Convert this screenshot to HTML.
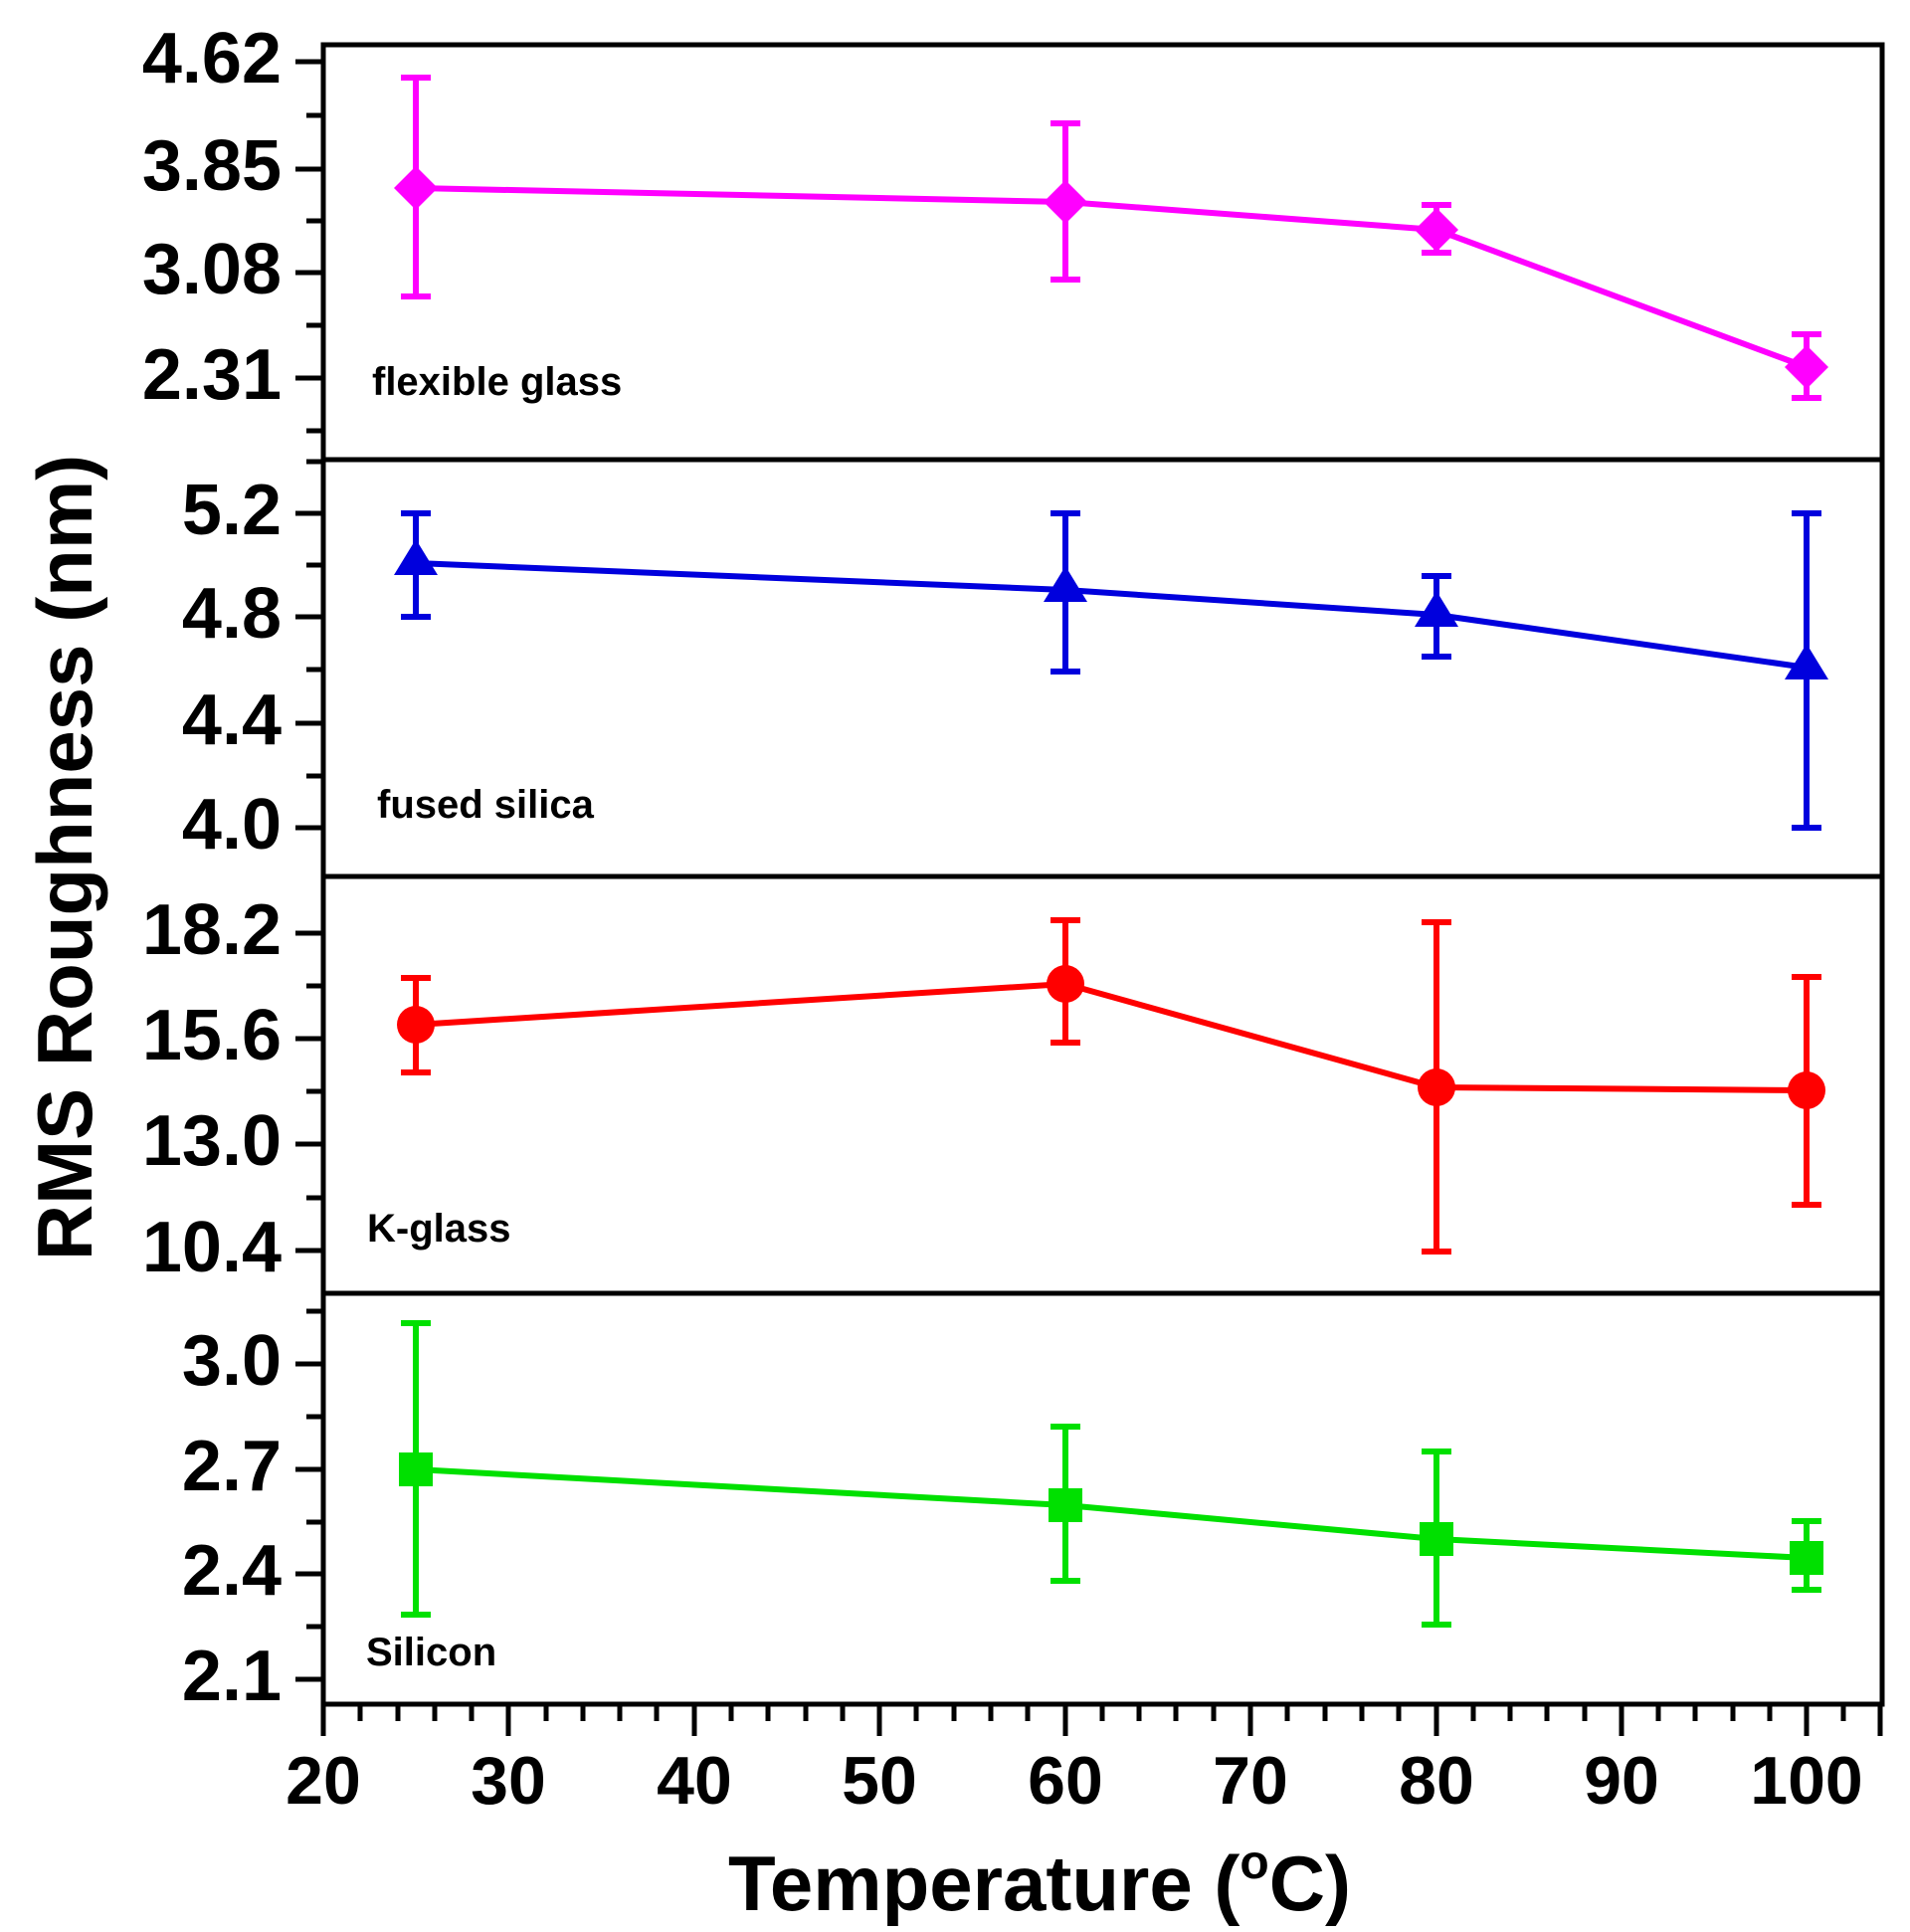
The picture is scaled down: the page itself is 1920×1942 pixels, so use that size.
<!DOCTYPE html>
<html><head><meta charset="utf-8"><style>
html,body{margin:0;padding:0;background:#fff;}
svg{display:block;}
text{font-family:"Liberation Sans",Arial,sans-serif;font-weight:bold;fill:#000;}
</style></head><body>
<svg width="1920" height="1942" viewBox="0 0 1920 1942" xmlns="http://www.w3.org/2000/svg">
<g stroke="#000" stroke-width="5" fill="none">
<rect x="325" y="45" width="1567" height="1668"/>
<line x1="325" y1="462" x2="1892" y2="462"/>
<line x1="325" y1="881" x2="1892" y2="881"/>
<line x1="325" y1="1300" x2="1892" y2="1300"/>
</g>
<g stroke="#000" stroke-width="5">
<line x1="297" y1="62" x2="325" y2="62"/><line x1="308" y1="116" x2="325" y2="116"/>
<line x1="297" y1="170" x2="325" y2="170"/><line x1="308" y1="222" x2="325" y2="222"/>
<line x1="297" y1="274" x2="325" y2="274"/><line x1="308" y1="327" x2="325" y2="327"/>
<line x1="297" y1="380" x2="325" y2="380"/><line x1="308" y1="433" x2="325" y2="433"/>
<line x1="308" y1="464" x2="325" y2="464"/>
<line x1="297" y1="516" x2="325" y2="516"/><line x1="308" y1="568" x2="325" y2="568"/>
<line x1="297" y1="620" x2="325" y2="620"/><line x1="308" y1="673" x2="325" y2="673"/>
<line x1="297" y1="727" x2="325" y2="727"/><line x1="308" y1="780" x2="325" y2="780"/>
<line x1="297" y1="832" x2="325" y2="832"/>
<line x1="297" y1="938" x2="325" y2="938"/><line x1="308" y1="991" x2="325" y2="991"/>
<line x1="297" y1="1044" x2="325" y2="1044"/><line x1="308" y1="1097" x2="325" y2="1097"/>
<line x1="297" y1="1150" x2="325" y2="1150"/><line x1="308" y1="1204" x2="325" y2="1204"/>
<line x1="297" y1="1257" x2="325" y2="1257"/>
<line x1="308" y1="1318" x2="325" y2="1318"/>
<line x1="297" y1="1371" x2="325" y2="1371"/><line x1="308" y1="1424" x2="325" y2="1424"/>
<line x1="297" y1="1477" x2="325" y2="1477"/><line x1="308" y1="1530" x2="325" y2="1530"/>
<line x1="297" y1="1582" x2="325" y2="1582"/><line x1="308" y1="1635" x2="325" y2="1635"/>
<line x1="297" y1="1688" x2="325" y2="1688"/>
</g>
<g stroke="#000" stroke-width="5">
<line x1="325" y1="1713" x2="325" y2="1745"/><line x1="362" y1="1713" x2="362" y2="1730"/><line x1="400" y1="1713" x2="400" y2="1730"/><line x1="437" y1="1713" x2="437" y2="1730"/><line x1="474" y1="1713" x2="474" y2="1730"/>
<line x1="511" y1="1713" x2="511" y2="1745"/><line x1="549" y1="1713" x2="549" y2="1730"/><line x1="586" y1="1713" x2="586" y2="1730"/><line x1="623" y1="1713" x2="623" y2="1730"/><line x1="660" y1="1713" x2="660" y2="1730"/>
<line x1="698" y1="1713" x2="698" y2="1745"/><line x1="735" y1="1713" x2="735" y2="1730"/><line x1="772" y1="1713" x2="772" y2="1730"/><line x1="810" y1="1713" x2="810" y2="1730"/><line x1="847" y1="1713" x2="847" y2="1730"/>
<line x1="884" y1="1713" x2="884" y2="1745"/><line x1="921" y1="1713" x2="921" y2="1730"/><line x1="959" y1="1713" x2="959" y2="1730"/><line x1="996" y1="1713" x2="996" y2="1730"/><line x1="1033" y1="1713" x2="1033" y2="1730"/>
<line x1="1071" y1="1713" x2="1071" y2="1745"/><line x1="1108" y1="1713" x2="1108" y2="1730"/><line x1="1145" y1="1713" x2="1145" y2="1730"/><line x1="1182" y1="1713" x2="1182" y2="1730"/><line x1="1220" y1="1713" x2="1220" y2="1730"/>
<line x1="1257" y1="1713" x2="1257" y2="1745"/><line x1="1294" y1="1713" x2="1294" y2="1730"/><line x1="1332" y1="1713" x2="1332" y2="1730"/><line x1="1369" y1="1713" x2="1369" y2="1730"/><line x1="1406" y1="1713" x2="1406" y2="1730"/>
<line x1="1444" y1="1713" x2="1444" y2="1745"/><line x1="1481" y1="1713" x2="1481" y2="1730"/><line x1="1518" y1="1713" x2="1518" y2="1730"/><line x1="1555" y1="1713" x2="1555" y2="1730"/><line x1="1593" y1="1713" x2="1593" y2="1730"/>
<line x1="1630" y1="1713" x2="1630" y2="1745"/><line x1="1667" y1="1713" x2="1667" y2="1730"/><line x1="1704" y1="1713" x2="1704" y2="1730"/><line x1="1742" y1="1713" x2="1742" y2="1730"/><line x1="1779" y1="1713" x2="1779" y2="1730"/>
<line x1="1816" y1="1713" x2="1816" y2="1745"/><line x1="1853" y1="1713" x2="1853" y2="1730"/><line x1="1890" y1="1713" x2="1890" y2="1745"/>
</g>
<g font-size="72" text-anchor="end">
<text x="283" y="83">4.62</text><text x="283" y="191">3.85</text><text x="283" y="295">3.08</text><text x="283" y="401">2.31</text>
<text x="283" y="537">5.2</text><text x="283" y="641">4.8</text><text x="283" y="748">4.4</text><text x="283" y="853">4.0</text>
<text x="283" y="959">18.2</text><text x="283" y="1065">15.6</text><text x="283" y="1171">13.0</text><text x="283" y="1278">10.4</text>
<text x="283" y="1392">3.0</text><text x="283" y="1498">2.7</text><text x="283" y="1603">2.4</text><text x="283" y="1709">2.1</text>
</g>
<g font-size="68" text-anchor="middle">
<text x="325" y="1813">20</text><text x="511" y="1813">30</text><text x="698" y="1813">40</text><text x="884" y="1813">50</text><text x="1071" y="1813">60</text><text x="1257" y="1813">70</text><text x="1444" y="1813">80</text><text x="1630" y="1813">90</text><text x="1816" y="1813">100</text>
</g>
<text x="1045" y="1920" font-size="78" text-anchor="middle">Temperature (<tspan font-size="48" dy="-32">o</tspan><tspan dy="32">C)</tspan></text>
<text transform="translate(92,862) rotate(-90)" font-size="78" text-anchor="middle">RMS Roughness (nm)</text>
<g font-size="40">
<text x="374" y="397">flexible glass</text>
<text x="379" y="822">fused silica</text>
<text x="369" y="1248">K-glass</text>
<text x="368" y="1674">Silicon</text>
</g>
<g stroke="#ff00ff" stroke-width="6" fill="#ff00ff">
<polyline fill="none" points="418,189 1071,203 1444,231 1816,369"/>
<line x1="418" y1="78" x2="418" y2="298"/><line x1="403" y1="78" x2="433" y2="78"/><line x1="403" y1="298" x2="433" y2="298"/>
<line x1="1071" y1="124" x2="1071" y2="281"/><line x1="1056" y1="124" x2="1086" y2="124"/><line x1="1056" y1="281" x2="1086" y2="281"/>
<line x1="1444" y1="206" x2="1444" y2="254"/><line x1="1429" y1="206" x2="1459" y2="206"/><line x1="1429" y1="254" x2="1459" y2="254"/>
<line x1="1816" y1="336" x2="1816" y2="400"/><line x1="1801" y1="336" x2="1831" y2="336"/><line x1="1801" y1="400" x2="1831" y2="400"/>
<g stroke="none">
<polygon points="418,167 440,189 418,211 396,189"/><polygon points="1071,181 1093,203 1071,225 1049,203"/>
<polygon points="1444,209 1466,231 1444,253 1422,231"/><polygon points="1816,347 1838,369 1816,391 1794,369"/>
</g></g>
<g stroke="#0000dd" stroke-width="6" fill="#0000dd">
<polyline fill="none" points="418,566 1071,593 1444,618 1816,671"/>
<line x1="418" y1="516" x2="418" y2="620"/><line x1="403" y1="516" x2="433" y2="516"/><line x1="403" y1="620" x2="433" y2="620"/>
<line x1="1071" y1="516" x2="1071" y2="675"/><line x1="1056" y1="516" x2="1086" y2="516"/><line x1="1056" y1="675" x2="1086" y2="675"/>
<line x1="1444" y1="579" x2="1444" y2="660"/><line x1="1429" y1="579" x2="1459" y2="579"/><line x1="1429" y1="660" x2="1459" y2="660"/>
<line x1="1816" y1="516" x2="1816" y2="832"/><line x1="1801" y1="516" x2="1831" y2="516"/><line x1="1801" y1="832" x2="1831" y2="832"/>
<g stroke="none">
<polygon points="418,542 440,578 396,578"/><polygon points="1071,569 1093,605 1049,605"/>
<polygon points="1444,594 1466,630 1422,630"/><polygon points="1816,647 1838,683 1794,683"/>
</g></g>
<g stroke="#ff0000" stroke-width="6" fill="#ff0000">
<polyline fill="none" points="418,1030 1071,989 1444,1093 1816,1096"/>
<line x1="418" y1="983" x2="418" y2="1078"/><line x1="403" y1="983" x2="433" y2="983"/><line x1="403" y1="1078" x2="433" y2="1078"/>
<line x1="1071" y1="925" x2="1071" y2="1048"/><line x1="1056" y1="925" x2="1086" y2="925"/><line x1="1056" y1="1048" x2="1086" y2="1048"/>
<line x1="1444" y1="927" x2="1444" y2="1258"/><line x1="1429" y1="927" x2="1459" y2="927"/><line x1="1429" y1="1258" x2="1459" y2="1258"/>
<line x1="1816" y1="982" x2="1816" y2="1211"/><line x1="1801" y1="982" x2="1831" y2="982"/><line x1="1801" y1="1211" x2="1831" y2="1211"/>
<g stroke="none">
<circle cx="418" cy="1030" r="19"/><circle cx="1071" cy="989" r="19"/><circle cx="1444" cy="1093" r="19"/><circle cx="1816" cy="1096" r="19"/>
</g></g>
<g stroke="#00e000" stroke-width="6" fill="#00e000">
<polyline fill="none" points="418,1477 1071,1513 1444,1547 1816,1566"/>
<line x1="418" y1="1330" x2="418" y2="1623"/><line x1="403" y1="1330" x2="433" y2="1330"/><line x1="403" y1="1623" x2="433" y2="1623"/>
<line x1="1071" y1="1434" x2="1071" y2="1589"/><line x1="1056" y1="1434" x2="1086" y2="1434"/><line x1="1056" y1="1589" x2="1086" y2="1589"/>
<line x1="1444" y1="1459" x2="1444" y2="1633"/><line x1="1429" y1="1459" x2="1459" y2="1459"/><line x1="1429" y1="1633" x2="1459" y2="1633"/>
<line x1="1816" y1="1529" x2="1816" y2="1598"/><line x1="1801" y1="1529" x2="1831" y2="1529"/><line x1="1801" y1="1598" x2="1831" y2="1598"/>
<g stroke="none">
<rect x="401" y="1460" width="34" height="34"/><rect x="1054" y="1496" width="34" height="34"/>
<rect x="1427" y="1530" width="34" height="34"/><rect x="1799" y="1549" width="34" height="34"/>
</g></g>
</svg>
</body></html>
